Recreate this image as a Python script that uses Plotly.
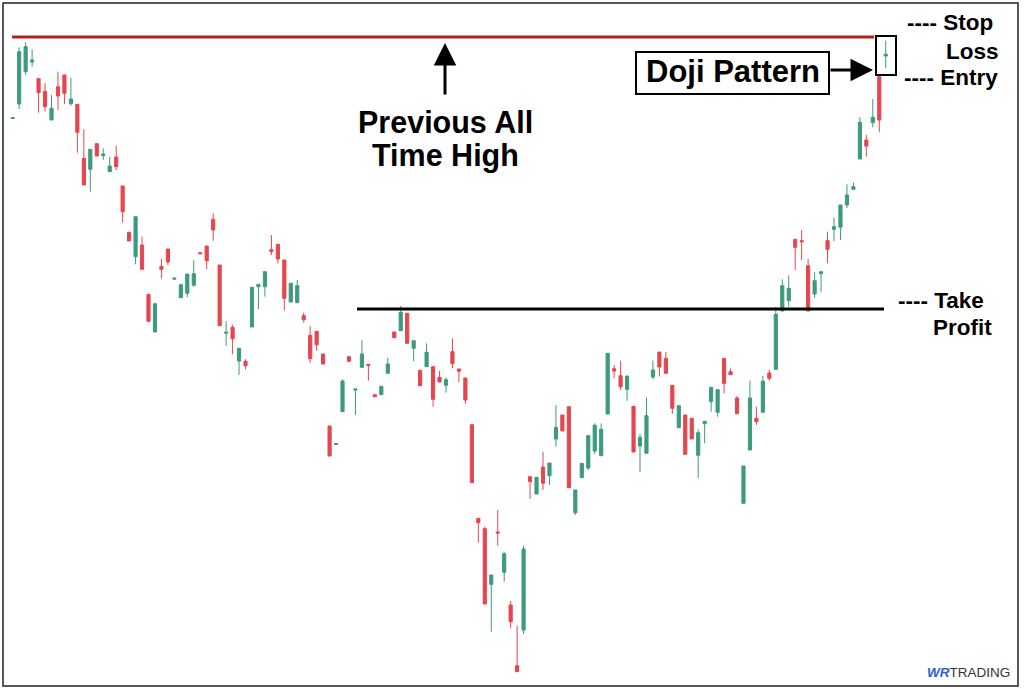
import plotly.graph_objects as go

# ---- data (price units) ----
opens = [581.5, 596, 628.3, 638, 621.3, 608.7, 580, 613.3, 625, 596.3,
         595.7, 541.7, 530.7, 556.3, 544.3, 528.3, 543, 514, 467.7, 443.3,
         455, 405.7, 368, 433.7, 451, 420.8, 402.3, 406.7, 414.7, 447.3,
         454, 480.7, 435, 366.8, 372.7, 339, 338.7, 373, 413.3, 413.3,
         450.3, 455.7, 440, 398, 397.3, 384.3, 364.7, 368.7, 346, 274,
         255.5, 288.3, 343.3, 310, 332.7, 335.7, 305.3, 305.3, 326.7, 368,
         369.3, 386.7, 351.7, 329.7, 333.3, 333.3, 322.7, 314.7, 348.3, 331,
         322, 275.3, 181.7, 171.3, 115.7, 168, 127.7, 95, 34.3, 70,
         223.3, 206, 233, 224.3, 261, 285, 293.3, 187.3, 222.3, 232,
         249, 244.3, 286, 331.3, 324.3, 310.7, 293.7, 254, 246.7, 323,
         348, 341.7, 314.7, 272.3, 285, 281.7, 244.7, 276.3, 298.3, 287.7,
         341.7, 328.3, 302, 196.7, 250, 281.7, 287.7, 327, 330.7, 389,
         399.3, 460.7, 459.3, 434.3, 406, 426.3, 459.3, 470.7, 472.7, 495,
         510.7, 541, 560, 577.3, 623.3, 644]
highs = [583, 652.7, 657.7, 650.7, 621.3, 616.7, 605, 628.3, 625, 622.3,
         595.7, 570.7, 550.7, 556.3, 551.7, 543.3, 554.3, 514, 467.7, 483.3,
         463.3, 405.7, 396.3, 441, 451, 421.8, 415.3, 426, 440, 447.3,
         454, 486.7, 435, 378.7, 375.3, 351.7, 340.7, 412.7, 415.7, 428.3,
         465, 455.7, 440, 416.7, 420, 387.3, 374, 368.7, 346, 274,
         256.5, 320.7, 343.3, 311, 360, 335.7, 305.3, 313.7, 342.3, 368,
         394, 386.7, 359.3, 329.7, 356.7, 333.3, 329, 322.7, 361.7, 331,
         322, 275.3, 181.7, 173.3, 125, 190, 148.3, 99, 74, 154.3,
         223.3, 222.7, 248.3, 237, 295, 285, 293.3, 210, 236.7, 264.3,
         276.7, 276.7, 346.7, 335, 339.3, 324, 293.7, 266, 302.7, 339.3,
         348, 348, 314.7, 294.3, 285, 281.7, 270.7, 278.7, 312.7, 310.3,
         341.7, 331.7, 304, 234, 319.3, 293.3, 324, 330, 393.3, 420.7,
         424.7, 460.7, 470, 441, 427.7, 428.3, 468.3, 482.3, 495, 515.7,
         517.7, 583, 565, 601, 623.3, 659.3]
lows = [581, 590.7, 625, 633.3, 587.3, 588.3, 580, 590, 596, 594.3,
        547.3, 515, 508.3, 544, 540, 528.3, 530, 477.3, 459, 435.7,
        430.7, 378.7, 368, 421.3, 435, 420.8, 402.3, 402.7, 413.3, 446.3,
        430.7, 459.3, 374.3, 354, 345.7, 325, 330.7, 373, 391, 403.3,
        445, 436.7, 389.3, 398, 397.3, 377.3, 337.3, 349.3, 336, 244,
        255.5, 288.3, 338.7, 285, 332.7, 319.3, 303.3, 305.3, 326.7, 362.3,
        369.3, 356.7, 339, 314.3, 333.3, 293.3, 318, 307.3, 331.7, 317.7,
        296.3, 217.3, 157.3, 96, 68.3, 154.3, 118.3, 71.7, 28.3, 66,
        201, 206, 210, 215, 253.3, 269, 212.3, 185, 222.3, 230,
        246, 244.3, 286, 321.7, 310, 299.3, 248, 228, 246.7, 320.7,
        323.5, 326.7, 286, 272.3, 245.7, 261, 221.7, 256.7, 288.3, 283.3,
        306.7, 325.3, 286.3, 196.7, 250, 275, 287.7, 319.3, 330.7, 389,
        393.3, 430, 440, 389, 402.3, 408.3, 436.7, 459, 460, 491.7,
        510.7, 541, 543.3, 572.7, 567.7, 631.7]
closes = [582.5, 648.3, 653.3, 640, 607.3, 593.3, 591.7, 604, 606.7, 601,
          567.7, 515, 550.7, 544, 546, 534, 533.3, 488.3, 459, 483.3,
          430.7, 378.7, 396.3, 430.7, 438, 421.8, 415.3, 426, 426.3, 446.3,
          439.3, 470, 374.3, 367.8, 361.3, 351.7, 334.3, 412.7, 415.7, 428.3,
          448.3, 441, 401.7, 416.7, 414.3, 380.3, 341.3, 355.3, 336, 244,
          256.5, 319, 338.7, 311, 346, 334.7, 303.3, 313.7, 336, 362.3,
          387.7, 356.7, 359.3, 314.3, 347.7, 300.7, 318, 320.3, 336.3, 328.7,
          300, 217.3, 177.3, 96, 125, 167, 146.3, 78.3, 28.3, 151,
          218.3, 222.7, 216.7, 237, 272.7, 269, 212.3, 210, 236.7, 264.3,
          274.7, 270.7, 346.7, 329, 313.3, 324, 248, 262.7, 284.3, 330,
          333, 326.7, 291.7, 294.3, 245.7, 261, 267.3, 278.7, 312.7, 310.3,
          316.7, 325.3, 286.3, 234, 302, 278.3, 318.7, 321.7, 385.7, 414.3,
          411.7, 452.7, 458.3, 389, 419.3, 428.3, 450.7, 473.3, 495, 505,
          513.3, 577.7, 554, 582.7, 580, 645.7]
days = list(range(len(opens)))

all_time_high = 663.0
take_profit = 391.0

title_lines = ["Previous All", "Time High"]
pattern_label = "Doji Pattern"

GREEN = "#3d9a7e"
RED = "#e4464f"

# ---- pixel helpers for the 1024x689 canvas ----
W, H = 1024, 689
X0PX, STEP = 12.7, 6.467


def px(x):
    return x / W


def py(y):
    return 1 - y / H


def idx(xpix):
    return (xpix - X0PX) / STEP


fig = go.Figure()
fig.add_trace(go.Candlestick(
    x=days, open=opens, high=highs, low=lows, close=closes,
    increasing=dict(line=dict(color=GREEN, width=1), fillcolor=GREEN),
    decreasing=dict(line=dict(color=RED, width=1), fillcolor=RED),
    whiskerwidth=0, showlegend=False, hoverinfo="skip",
))

shapes = [
    # previous all-time high
    dict(type="line", xref="x", yref="y", x0=idx(12), x1=idx(874),
         y0=all_time_high, y1=all_time_high,
         line=dict(color="#b3201c", width=3)),
    # take-profit level
    dict(type="line", xref="x", yref="y", x0=idx(357), x1=idx(884),
         y0=take_profit, y1=take_profit,
         line=dict(color="#000000", width=3)),
    # box around doji candle
    dict(type="rect", xref="paper", yref="paper",
         x0=px(876), x1=px(896), y0=py(36), y1=py(75),
         line=dict(color="#000000", width=2)),
    # label box
    dict(type="rect", xref="paper", yref="paper",
         x0=px(636), x1=px(829), y0=py(52), y1=py(94),
         line=dict(color="#000000", width=2)),
    # image frame
    dict(type="rect", xref="paper", yref="paper",
         x0=px(3), x1=px(1018), y0=py(3), y1=py(686),
         line=dict(color="#222222", width=1.5)),
]

BOLD = "Liberation Sans"


def label(text, x, y, size, xanchor="center"):
    return dict(text=text, x=px(x), y=py(y), xref="paper", yref="paper",
                xanchor=xanchor, yanchor="middle", showarrow=False,
                font=dict(family=BOLD, size=size, color="#000"))


annotations = [
    label("<b>%s</b>" % title_lines[0], 445, 122, 30.5),
    label("<b>%s</b>" % title_lines[1], 445, 156, 30.5),
    # up arrow
    dict(text="", x=px(445), y=py(43), ax=0, ay=53,
         xref="paper", yref="paper", showarrow=True,
         arrowhead=2, arrowsize=1.5, arrowwidth=3, arrowcolor="#000"),
    label("<b>%s</b>" % pattern_label, 733, 72, 31),
    # right arrow
    dict(text="", x=px(873), y=py(70), ax=-44, ay=0,
         xref="paper", yref="paper", showarrow=True,
         arrowhead=2, arrowsize=1.5, arrowwidth=3, arrowcolor="#000"),
    label("<b>---- Stop</b>", 905, 23, 22.5, "left"),
    label("<b>Loss</b>", 944, 52, 22.5, "left"),
    label("<b>---- Entry</b>", 902, 78, 22.5, "left"),
    label("<b>---- Take</b>", 896, 300, 22.5, "left"),
    label("<b>Profit</b>", 931, 327, 22.5, "left"),
    dict(text="<span style='color:#2f5fd8'><b><i>WR</i></b></span>"
              "<span style='color:#333333'>TRADING</span>",
         x=px(1012), y=py(672), xanchor="right", yanchor="middle",
         xref="paper", yref="paper", showarrow=False,
         font=dict(family="Liberation Sans", size=13.5)),
]

fig.update_layout(
    width=W, height=H, autosize=False,
    margin=dict(l=0, r=0, t=0, b=0),
    paper_bgcolor="white", plot_bgcolor="white",
    xaxis=dict(visible=False, range=[idx(0), idx(W)],
               rangeslider=dict(visible=False), fixedrange=True),
    yaxis=dict(visible=False, range=[700 - H, 700], fixedrange=True),
    shapes=shapes, annotations=annotations,
    showlegend=False,
)

fig.write_html("out.html", config={"displayModeBar": False},
               post_script="document.body.style.margin='0';")
